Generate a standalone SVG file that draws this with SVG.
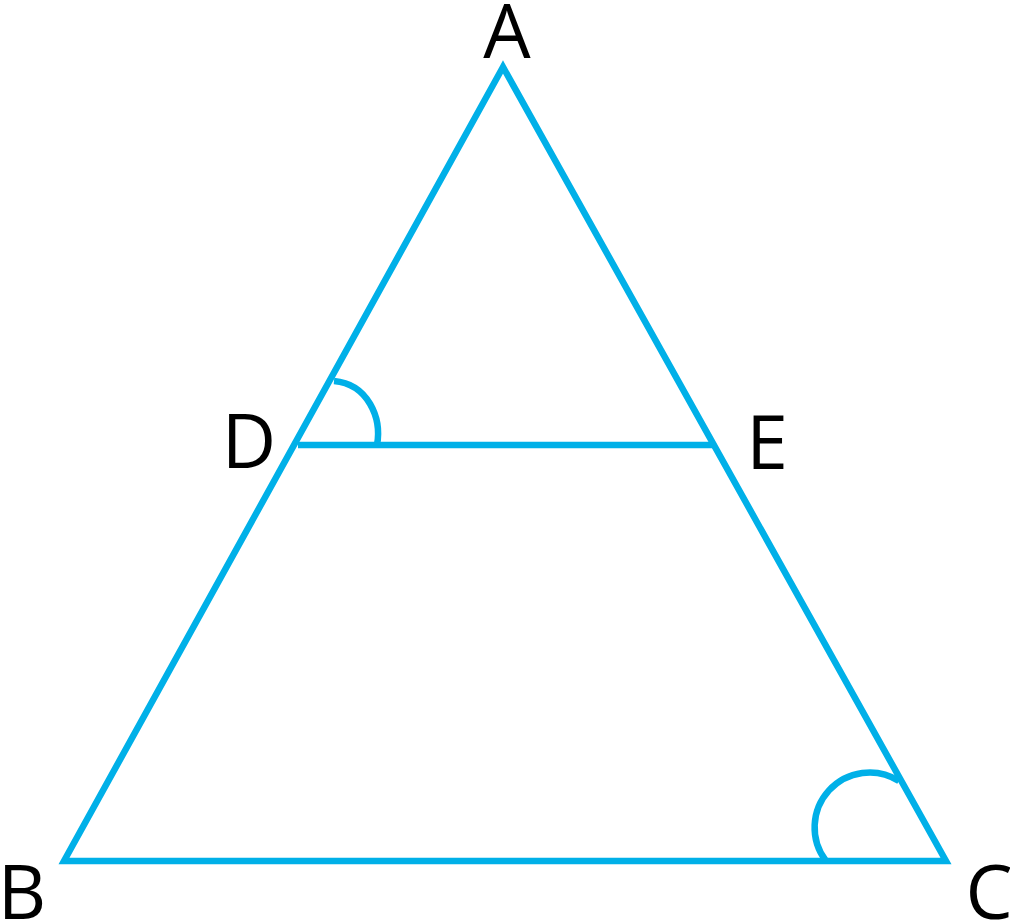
<svg xmlns="http://www.w3.org/2000/svg" width="1010" height="924" viewBox="0 0 1010 924">
<style>
.ln{fill:none;stroke:#00B0E8;stroke-width:6.5;stroke-linejoin:miter;stroke-miterlimit:10}
.lb{font-family:"Open Sans","Noto Sans",sans-serif;font-size:75px;fill:#000}
</style>
<rect width="1010" height="924" fill="#fff"/>
<g id="connectors">
<polygon class="ln" points="503,67 64,861 946,861"/>
<line class="ln" x1="298" y1="445" x2="713" y2="445"/>
<path class="ln" d="M377,445 C382,418 368,384 334,381"/>
<path class="ln" d="M826,861 A55,55 0 0 1 899,781"/>
</g>
<g id="A"><text class="lb" x="507" y="58" text-anchor="middle">A</text></g>
<g id="D"><text class="lb" x="249" y="468" text-anchor="middle">D</text></g>
<g id="E"><text class="lb" x="767" y="469" text-anchor="middle">E</text></g>
<g id="B"><text class="lb" x="22" y="919" text-anchor="middle">B</text></g>
<g id="C"><text class="lb" x="989" y="919" text-anchor="middle">C</text></g>
</svg>
